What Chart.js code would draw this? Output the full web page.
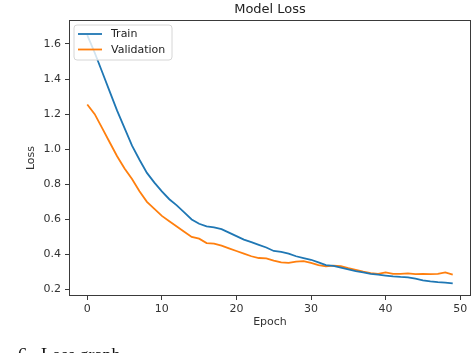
<!DOCTYPE html>
<html><head><meta charset="utf-8">
<script src="https://cdn.jsdelivr.net/npm/chart.js@4.4.1/dist/chart.umd.min.js"></script>
<style>
html,body{margin:0;padding:0;background:#fff;overflow:hidden;width:474px;height:353px}
#wrap{position:absolute;left:0;top:0;width:474px;height:353px}
.cap{position:absolute;top:346px;font-family:"Liberation Serif",serif;font-size:18px;line-height:18px;white-space:nowrap;color:#111}
</style></head>
<body>
<div id="wrap"><canvas id="c" width="474" height="353"></canvas></div>
<div class="cap" style="left:18px">6.</div><div class="cap" style="left:41px">Loss graph</div>
<script>
const chartTitle = 'Model Loss';
const xTitle = 'Epoch';
const yTitle = 'Loss';
const seriesNames = ['Train', 'Validation'];
const epochs = [0,1,2,3,4,5,6,7,8,9,10,11,12,13,14,15,16,17,18,19,20,21,22,23,24,25,26,27,28,29,30,31,32,33,34,35,36,37,38,39,40,41,42,43,44,45,46,47,48,49];
const trainLoss = [1.65,1.55,1.44,1.33,1.22,1.12,1.02,0.94,0.865,0.81,0.76,0.715,0.68,0.64,0.60,0.575,0.56,0.555,0.545,0.525,0.505,0.485,0.47,0.455,0.44,0.42,0.415,0.405,0.39,0.38,0.37,0.355,0.34,0.335,0.325,0.315,0.305,0.298,0.29,0.285,0.28,0.275,0.272,0.27,0.262,0.253,0.247,0.243,0.24,0.235];
const valLoss = [1.255,1.20,1.12,1.04,0.96,0.89,0.83,0.76,0.70,0.66,0.62,0.59,0.56,0.53,0.50,0.49,0.465,0.462,0.45,0.435,0.42,0.405,0.39,0.38,0.378,0.365,0.355,0.352,0.36,0.362,0.352,0.34,0.332,0.337,0.333,0.322,0.312,0.302,0.294,0.29,0.298,0.29,0.29,0.292,0.288,0.29,0.288,0.29,0.298,0.285];
const xTicks = [0,10,20,30,40,50];
const yTicks = [0.2,0.4,0.6,0.8,1.0,1.2,1.4,1.6];
const colors = ['#1f77b4','#ff7f0e'];

const FONT = 'DejaVu Sans';
const frame = {
  id: 'frame',
  afterDatasetsDraw(chart) {
    const a = chart.chartArea, ctx = chart.ctx;
    ctx.save();
    ctx.strokeStyle = '#3a3a3a';
    ctx.lineWidth = 1;
    ctx.strokeRect(Math.round(a.left) + 0.5, Math.round(a.top) + 0.5, Math.round(a.right - a.left) - 1, Math.round(a.bottom - a.top) - 1);
    ctx.restore();
  },
  afterDraw(chart) {
    const ctx = chart.ctx;
    ctx.save();
    const bx = 74, by = 25, bw = 98, bh = 35, r = 3;
    ctx.beginPath();
    ctx.moveTo(bx + r, by);
    ctx.arcTo(bx + bw, by, bx + bw, by + bh, r);
    ctx.arcTo(bx + bw, by + bh, bx, by + bh, r);
    ctx.arcTo(bx, by + bh, bx, by, r);
    ctx.arcTo(bx, by, bx + bw, by, r);
    ctx.closePath();
    ctx.fillStyle = 'rgba(255,255,255,0.8)';
    ctx.fill();
    ctx.strokeStyle = '#d6d6d6';
    ctx.lineWidth = 1;
    ctx.stroke();
    chart.data.datasets.forEach((ds, i) => {
      const y = 34 + i * 15.5;
      ctx.beginPath();
      ctx.moveTo(78, y);
      ctx.lineTo(102, y);
      ctx.strokeStyle = ds.borderColor;
      ctx.lineWidth = 1.8;
      ctx.stroke();
      ctx.fillStyle = '#222';
      ctx.font = '11px "' + FONT + '"';
      ctx.textBaseline = 'middle';
      ctx.fillText(ds.label, 111, y + 0.5);
    });
    ctx.restore();
  }
};

new Chart(document.getElementById('c'), {
  type: 'line',
  data: {
    datasets: [
      { label: seriesNames[0], data: epochs.map((e, i) => ({x: e, y: trainLoss[i]})), borderColor: colors[0], backgroundColor: colors[0], borderWidth: 1.8, pointRadius: 0, tension: 0, fill: false },
      { label: seriesNames[1], data: epochs.map((e, i) => ({x: e, y: valLoss[i]})), borderColor: colors[1], backgroundColor: colors[1], borderWidth: 1.8, pointRadius: 0, tension: 0, fill: false }
    ]
  },
  options: {
    responsive: false,
    animation: false,
    devicePixelRatio: 1,
    layout: { padding: { top: 0, right: 3, left: 0, bottom: 0 } },
    plugins: {
      legend: { display: false },
      tooltip: { enabled: false },
      title: {
        display: true, text: chartTitle, fullSize: false, color: '#222',
        font: { family: FONT, size: 13, weight: 'normal' },
        padding: { top: 2, bottom: 2.4 }
      }
    },
    scales: {
      x: {
        type: 'linear', min: -2.45, max: 51.45,
        afterBuildTicks: s => { s.ticks = xTicks.map(v => ({value: v})); },
        afterFit: s => { s.height = 57; },
        grid: { drawOnChartArea: false, tickLength: 4, color: '#3a3a3a', tickWidth: 1 },
        border: { display: false },
        ticks: { color: '#333', font: { family: FONT, size: 11 }, padding: 3, maxRotation: 0, autoSkip: false },
        title: { display: true, text: xTitle, color: '#333', font: { family: FONT, size: 11 }, padding: { top: 0, bottom: 24 } }
      },
      y: {
        type: 'linear', min: 0.1635, max: 1.7365,
        afterBuildTicks: s => { s.ticks = yTicks.map(v => ({value: v})); },
        afterFit: s => { s.width = 69; },
        grid: { drawOnChartArea: false, tickLength: 4, color: '#3a3a3a', tickWidth: 1 },
        border: { display: false },
        ticks: { color: '#333', font: { family: FONT, size: 11 }, padding: 4, autoSkip: false, callback: v => v.toFixed(1) },
        title: { display: true, text: yTitle, color: '#333', font: { family: FONT, size: 11 }, padding: { top: 25, bottom: 0 } }
      }
    }
  },
  plugins: [frame]
});
</script>
</body></html>
